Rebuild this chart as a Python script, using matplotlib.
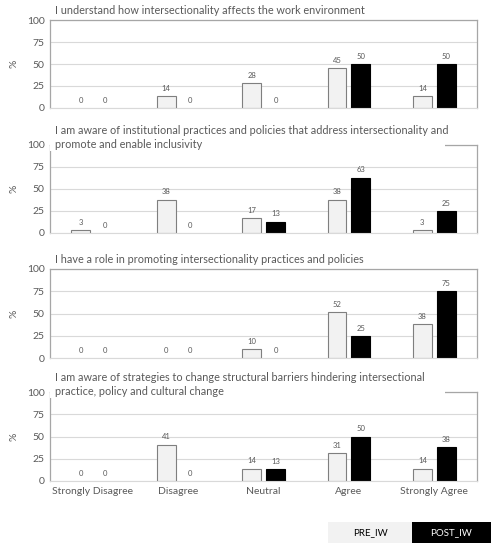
import matplotlib.pyplot as plt
from matplotlib.patches import Rectangle
import numpy as np

plt.rcParams['font.family'] = ['Lato', 'DejaVu Sans']

categories = ['Strongly Disagree', 'Disagree', 'Neutral', 'Agree', 'Strongly Agree']
titles = [
    'I understand how intersectionality affects the work environment',
    'I am aware of institutional practices and policies that address intersectionality and\npromote and enable inclusivity',
    'I have a role in promoting intersectionality practices and policies',
    'I am aware of strategies to change structural barriers hindering intersectional\npractice, policy and cultural change',
]
pre_iw = [
    [0, 14, 28, 45, 14],
    [3, 38, 17, 38, 3],
    [0, 0, 10, 52, 38],
    [0, 41, 14, 31, 14],
]
post_iw = [
    [0, 0, 0, 50, 50],
    [0, 0, 13, 63, 25],
    [0, 0, 0, 25, 75],
    [0, 0, 13, 50, 38],
]

grey_txt = '#595959'
W, H = 497, 550
fig = plt.figure(figsize=(W / 100, H / 100), dpi=100)

# (top, bottom) of each panel in pixels
panels = [(20, 108), (145, 233), (269, 358), (392, 481)]
left, right = 50, 477
x = np.arange(len(categories))
bw = 0.22
off = 0.14

for i, (top, bot) in enumerate(panels):
    ax = fig.add_axes([left / W, 1 - bot / H, (right - left) / W, (bot - top) / H])
    pre_edges = ['none' if v == 0 else '#7f7f7f' for v in pre_iw[i]]
    post_edges = ['none' if v == 0 else 'black' for v in post_iw[i]]
    b1 = ax.bar(x - off, pre_iw[i], bw, color='#f2f2f2', edgecolor=pre_edges, linewidth=0.8, zorder=2)
    b2 = ax.bar(x + off, post_iw[i], bw, color='black', edgecolor=post_edges, linewidth=0.8, zorder=2)
    for bars in (b1, b2):
        for r in bars:
            ax.annotate(f'{r.get_height():.0f}', (r.get_x() + r.get_width() / 2, r.get_height()),
                        xytext=(0, 3), textcoords='offset points', ha='center', va='bottom',
                        fontsize=5.5, color=grey_txt)
    ax.set_xlim(-0.5, 4.5)
    ax.set_ylim(0, 100)
    ax.set_yticks([0, 25, 50, 75, 100])
    ax.yaxis.grid(True, color='#d9d9d9', linewidth=0.8, zorder=0)
    ax.set_axisbelow(True)
    ax.tick_params(axis='both', length=0, labelsize=7.5, labelcolor=grey_txt, pad=4)
    ax.set_ylabel('%', fontsize=7.5, color=grey_txt, labelpad=6)
    ax.set_xticks(x)
    if i == 3:
        ax.set_xticklabels(categories)
    else:
        ax.set_xticklabels([])
    for s in ('top', 'right', 'left'):
        ax.spines[s].set_color('#a6a6a6')
        ax.spines[s].set_linewidth(0.9)
    ax.spines['bottom'].set_color('#d9d9d9')

    if '\n' in titles[i]:
        # white patch hiding the frame behind the two-line title
        ax.add_patch(Rectangle((0, 0.93), 0.925, 0.3, transform=ax.transAxes,
                               facecolor='white', edgecolor='none', clip_on=False, zorder=5))
        ax.text(0.012, 0.94, titles[i], transform=ax.transAxes, ha='left', va='bottom',
                fontsize=7.8, color=grey_txt, linespacing=1.35, zorder=6)
    else:
        ax.text(0.012, 1.05, titles[i], transform=ax.transAxes, ha='left', va='bottom',
                fontsize=7.8, color=grey_txt, zorder=6)

# legend boxes
fig.add_artist(Rectangle((328 / W, 1 - 543 / H), 84 / W, 21 / H, transform=fig.transFigure,
                         facecolor='#f2f2f2', edgecolor='none'))
fig.add_artist(Rectangle((412 / W, 1 - 543 / H), 79 / W, 21 / H, transform=fig.transFigure,
                         facecolor='black', edgecolor='none'))
fig.text(370 / W, 1 - 532.5 / H, 'PRE_IW', ha='center', va='center', fontsize=7, color='black')
fig.text(451 / W, 1 - 532.5 / H, 'POST_IW', ha='center', va='center', fontsize=7, color='white')

fig.savefig('out.png', dpi=100)
